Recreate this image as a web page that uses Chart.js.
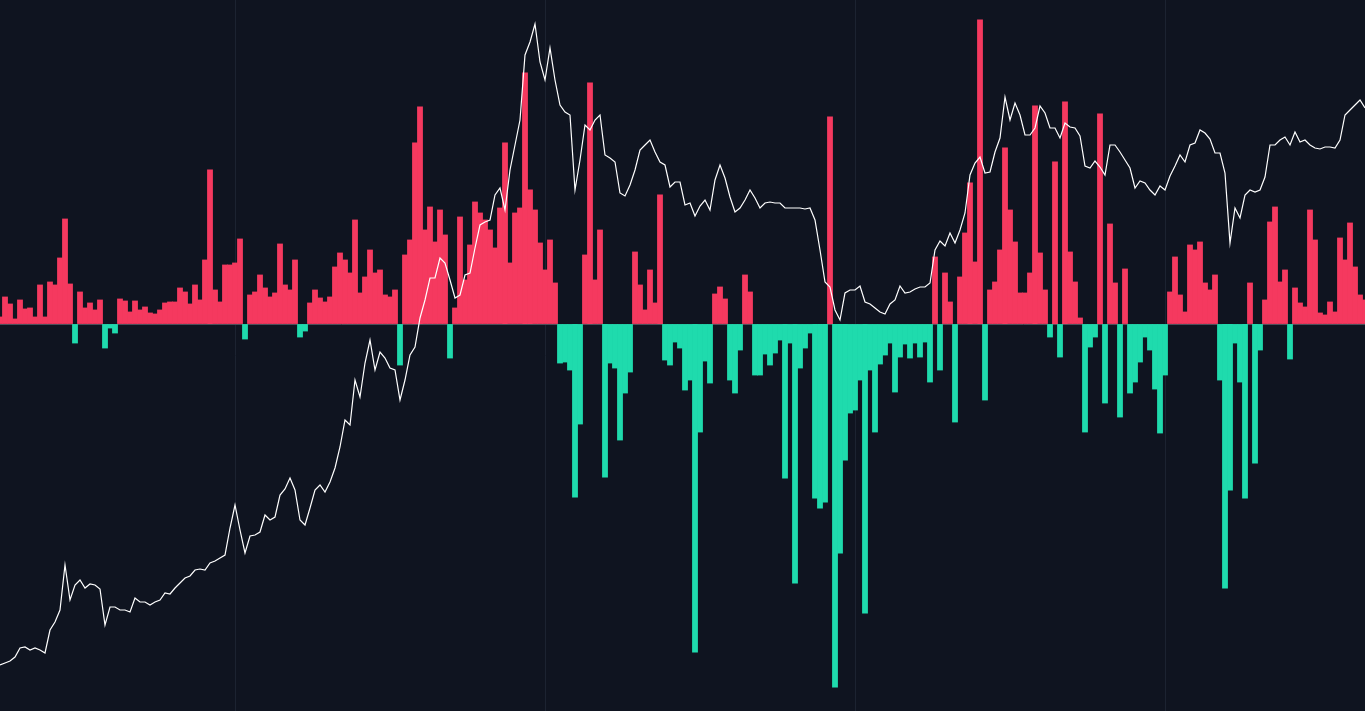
<!DOCTYPE html>
<html>
<head>
<meta charset="utf-8">
<title>Net flow vs price</title>
<script src="https://cdn.jsdelivr.net/npm/chart.js@4.4.1/dist/chart.umd.min.js"></script>
<style>
  html, body { margin: 0; padding: 0; background: #0f1420; }
  #wrap { position: relative; width: 1365px; height: 711px; }
</style>
</head>
<body>
<div id="wrap"><canvas id="stage"></canvas></div>
<script>
// price index (white line), one reading per period
var price = [
  46, 48, 50, 54, 63, 64, 61, 63, 61, 58, 81, 89, 101, 146, 111, 126, 131, 123, 127, 126,
  122, 86, 104, 104, 101, 101, 99, 113, 109, 109, 106, 109, 111, 118, 117, 123, 128, 133, 135, 141,
  142, 141, 148, 150, 153, 156, 183, 206, 181, 158, 175, 176, 179, 196, 191, 194, 216, 222, 233, 221,
  191, 186, 203, 221, 226, 219, 229, 243, 264, 291, 286, 331, 314, 348, 371, 341, 359, 353, 343, 341,
  311, 331, 356, 364, 393, 411, 433, 433, 453, 448, 431, 413, 416, 436, 438, 463, 486, 489, 491, 516,
  523, 501, 541, 566, 591, 656, 669, 687, 649, 631, 663, 631, 606, 599, 596, 521, 551, 586, 581, 591,
  596, 556, 553, 549, 518, 515, 526, 541, 561, 566, 571, 559, 549, 546, 524, 529, 529, 506, 508, 495,
  505, 511, 501, 531, 546, 533, 514, 499, 503, 511, 521, 513, 503, 508, 509, 508, 508, 503, 503, 503,
  503, 502, 503, 491, 461, 429, 424, 401, 391, 418, 421, 421, 425, 409, 407, 403, 399, 397, 407, 411,
  425, 418, 419, 422, 424, 424, 428, 461, 470, 465, 478, 468, 481, 498, 536, 548, 554, 538, 539, 559,
  573, 614, 591, 608, 596, 576, 576, 583, 605, 598, 583, 583, 573, 588, 584, 583, 575, 545, 543, 550,
  544, 536, 566, 566, 559, 551, 543, 523, 530, 528, 521, 516, 525, 521, 535, 545, 556, 549, 566, 568,
  581, 578, 572, 558, 558, 538, 468, 503, 493, 516, 521, 519, 521, 534, 566, 566, 571, 574, 566, 579,
  569, 571, 566, 563, 562, 564, 564, 563, 571, 596, 601, 606, 611, 603
];

// net flow per period: positive = red, negative = teal
var netflow = [
  7, 27, 20, 5, 24, 15, 16, 7, 39, 7, 42, 39, 66, 105, 40, -19, 32, 16, 21, 14,
  24, -24, -4, -9, 25, 23, 12, 23, 14, 17, 11, 10, 14, 21, 22, 22, 36, 32, 20, 39,
  24, 64, 154, 34, 22, 59, 59, 61, 85, -15, 29, 32, 49, 36, 27, 31, 80, 39, 34, 64,
  -13, -7, 21, 34, 26, 22, 27, 57, 71, 64, 51, 104, 31, 47, 74, 51, 54, 29, 27, 34,
  -41, 69, 84, 181, 217, 94, 117, 82, 114, 89, -34, 16, 107, 44, 79, 122, 111, 104, 94, 76,
  116, 181, 61, 111, 116, 251, 134, 114, 81, 54, 84, 41, -39, -38, -46, -173, -100, 69, 241, 44,
  94, -153, -39, -44, -116, -69, -48, 72, 39, 14, 54, 21, 129, -36, -41, -18, -24, -66, -56, -328,
  -108, -37, -59, 30, 37, 25, -56, -69, -26, 49, 32, -51, -51, -30, -41, -29, -16, -154, -19, -259,
  -44, -24, -9, -174, -184, -178, 207, -363, -229, -136, -89, -86, -56, -289, -46, -108, -40, -31, -19, -68,
  -33, -20, -34, -19, -33, -18, -58, 67, -46, 51, 22, -98, 47, 91, 141, 62, 304, -76, 34, 42,
  74, 176, 114, 82, 31, 31, 51, 218, 71, 34, -13, 162, -33, 222, 72, 42, 6, -108, -23, -13,
  210, -79, 100, 41, -93, 55, -69, -58, -38, -13, -26, -65, -109, -51, 32, 67, 29, 12, 79, 74,
  82, 41, 34, 49, -56, -264, -166, -19, -58, -174, 41, -139, -26, 24, 102, 117, 42, 54, -35, 36,
  21, 17, 114, 84, 11, 9, 22, 12, 86, 64, 101, 57, 29, 24
];

// period indexes where a new year starts (vertical grid lines)
var yearStarts = [47, 109, 171, 233];

var labels = price.map(function(v, i) { return 'P' + (i + 1); });

var RED = '#f5395f';
var TEAL = '#1fdbad';

var canvas = document.getElementById('stage');
var chart = new Chart(canvas, {
  type: 'bar',
  data: {
    labels: labels,
    datasets: [
      {
        type: 'line',
        label: 'Price',
        data: price,
        yAxisID: 'y1',
        borderColor: '#ffffff',
        borderWidth: 1.2,
        pointRadius: 0,
        tension: 0,
        order: 0
      },
      {
        type: 'bar',
        label: 'Net flow',
        data: netflow,
        yAxisID: 'y',
        backgroundColor: netflow.map(function(v) { return v >= 0 ? RED : TEAL; }),
        borderWidth: 0,
        barPercentage: 1,
        categoryPercentage: 1,
        inflateAmount: 0.4,
        order: 1
      }
    ]
  },
  options: {
    responsive: true,
    maintainAspectRatio: false,
    animation: false,
    layout: { padding: 0 },
    plugins: {
      legend: { display: false },
      tooltip: { enabled: false }
    },
    scales: {
      x: {
        offset: false,
        ticks: { display: false },
        border: { display: false },
        grid: {
          offset: false,
          drawTicks: false,
          lineWidth: 1,
          color: function(ctx) {
            return yearStarts.indexOf(ctx.index) >= 0 ? '#1c2331' : 'transparent';
          }
        },
        afterFit: function(s) { s.height = 0; }
      },
      y: {
        min: -387,
        max: 324,
        ticks: { display: false },
        border: { display: false },
        grid: {
          drawTicks: false,
          color: function(ctx) {
            return ctx.tick && ctx.tick.value === 0 ? '#4b505b' : 'transparent';
          }
        },
        afterFit: function(s) { s.width = 0; }
      },
      y1: {
        position: 'right',
        min: 0,
        max: 711,
        display: false
      }
    }
  }
});
</script>
</body>
</html>
